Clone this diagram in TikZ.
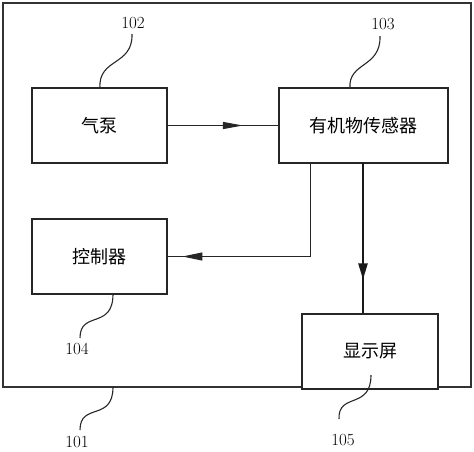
\documentclass[tikz,border=0pt]{standalone}
\usepackage{fontspec}
\newfontfamily\cjk{Noto Sans CJK SC}
\usetikzlibrary{arrows.meta,decorations.markings,calc}
\begin{document}
\begin{tikzpicture}[x=1pt,y=-1pt,
  blk/.style={draw=black!85,line width=1.4pt,minimum height=75pt,inner sep=0pt,font=\cjk\fontsize{18}{18}\selectfont},
  conn/.style={draw=black!85,line width=1.1pt},
  thick conn/.style={draw=black!90,line width=2.3pt},
  lead/.style={draw=black!85,line width=1.1pt},
  num/.style={inner sep=0pt,font=\fontsize{17}{17}\selectfont}]
\useasboundingbox (0,0) rectangle (474,451);
\draw[line width=1.1pt,black!80] (3,3) rectangle (471,387);
\node[blk,minimum width=135pt] (pump) at (99.5,125.5) {气泵};
\node[blk,minimum width=169pt] (sensor) at (363.5,125.5) {有机物传感器};
\node[blk,minimum width=135pt] (ctrl) at (99.5,256.5) {控制器};
\node[blk,minimum width=136pt,fill=white] (disp) at (370,351.5) {显示屏};
% connectors
\draw[conn,postaction={decorate},decoration={markings,mark=at position 0.68 with {\arrow{Triangle[length=20pt,width=7pt]}}}] (pump.east) -- (sensor.west);
\coordinate (s1) at ($(sensor.south west)+(32,0)$);
\draw[conn,postaction={decorate},decoration={markings,mark=at position 0.9375 with {\arrow{Triangle[length=20pt,width=8pt]}}}] (s1) |- (ctrl.east);
\coordinate (s2) at (363,163);
\draw[thick conn,postaction={decorate},decoration={markings,mark=at position 0.775 with {\arrow{Triangle[length=16pt,width=9pt]}}}] (s2) -- (s2 |- disp.north);
% labels
\node[num] (n102) at (133,23) {102};
\node[num] (n103) at (383,24) {103};
\node[num] (n104) at (77,349) {104};
\node[num] (n101) at (77,442) {101};
\node[num] (n105) at (343,440) {105};
\coordinate (a102) at (100,88);
\coordinate (b102) at (132,34);
\draw[lead] (a102) .. controls (98,58) and (133,66) .. (b102);
\coordinate (a103) at (350,88);
\coordinate (b103) at (380,36);
\draw[lead] (a103) .. controls (348,62) and (381,68) .. (b103);
\coordinate (a104) at (113,294);
\coordinate (b104) at (80,338);
\draw[lead] (a104) .. controls (113,330) and (80,310) .. (b104);
\coordinate (a101) at (113,387);
\coordinate (b101) at (80,430);
\draw[lead] (a101) .. controls (113,422) and (80,402) .. (b101);
\coordinate (a105) at (371,375);
\coordinate (b105) at (339,419);
\draw[lead] (a105) .. controls (371,410) and (338,392) .. (b105);
\end{tikzpicture}
\end{document}
